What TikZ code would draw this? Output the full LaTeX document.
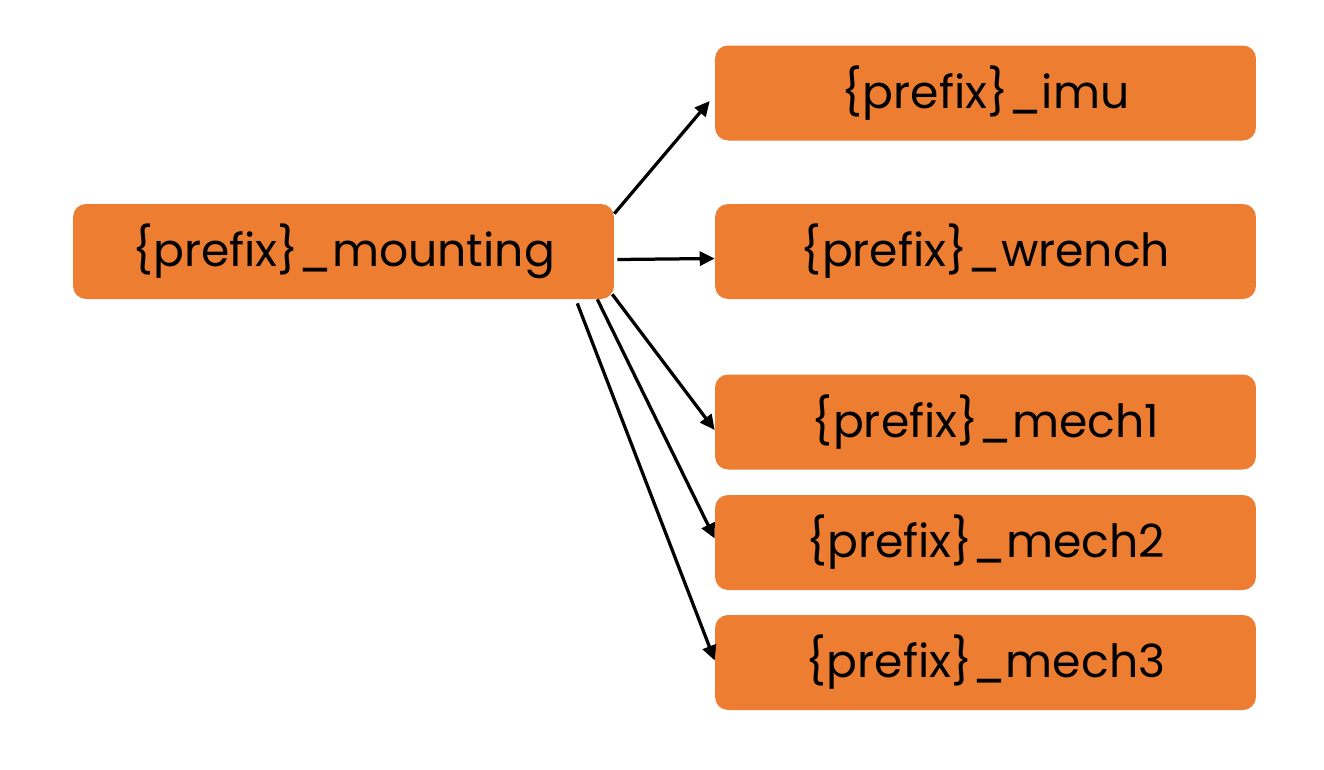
\documentclass[tikz,border=0pt]{standalone}
\usepackage{fontspec}
\setmainfont{Poppins}
\usetikzlibrary{arrows.meta}

\definecolor{boxorange}{HTML}{ED7D31}
\tikzset{
  topicbox/.style={fill=boxorange, rounded corners=0.26cm, minimum width=10.82cm,
    minimum height=1.9cm, inner sep=0pt, font=\fontsize{26}{30}\selectfont},
  link/.style={-{Triangle[length=0.3cm, width=0.28cm]}, line width=0.065cm}
}

\begin{document}
\begin{tikzpicture}[x=0.02cm, y=-0.02cm]
            \useasboundingbox (0,0) rectangle (1324,769);
            \node[topicbox] (mount) at (343.5,251.5) {\{prefix\}\_mounting};
            \node[topicbox] (imu) at (985.5,93) {\{prefix\}\_imu};
            \node[topicbox] (wrench) at (985.5,251.5) {\{prefix\}\_wrench};
            \node[topicbox] (mech1) at (985.5,422) {\{prefix\}\_mech1};
            \node[topicbox] (mech2) at (985.5,542.5) {\{prefix\}\_mech2};
            \node[topicbox] (mech3) at (985.5,662.5) {\{prefix\}\_mech3};
            % arrows out of the mounting frame
            \draw[link] ([yshift=-0.2cm]mount.north east) -- ([xshift=-0.1cm, yshift=-0.16cm]imu.west);
            \draw[link] ([xshift=0.06cm, yshift=-0.16cm]mount.east) -- ([yshift=-0.14cm]wrench.west);
            \draw[link] ([xshift=-0.04cm, yshift=0.1cm]mount.south east) -- ([yshift=-0.16cm]mech1.west);
            \draw[link] ([xshift=-0.34cm]mount.south east) -- ([yshift=0.08cm]mech2.west);
            \draw[link] ([xshift=-0.74cm, yshift=-0.08cm]mount.south east) -- ([yshift=0.04cm]mech3.west);
        \end{tikzpicture}
\end{document}
